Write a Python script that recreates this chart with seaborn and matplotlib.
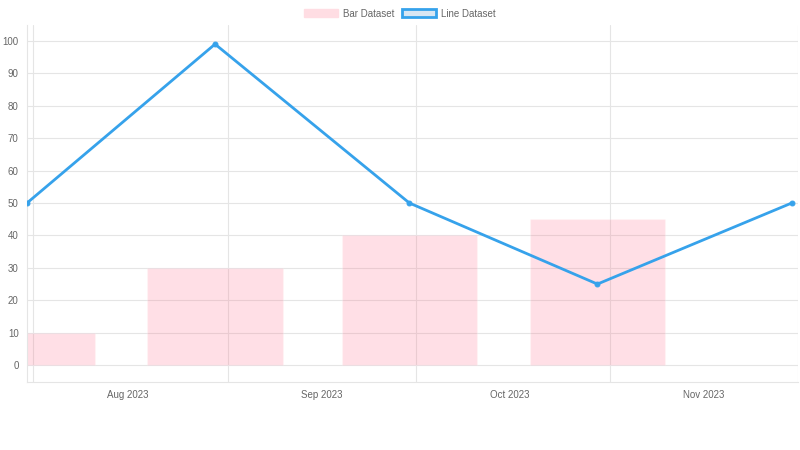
import matplotlib
matplotlib.use("Agg")
import matplotlib.pyplot as plt
import pandas as pd
import seaborn as sns
from matplotlib.patches import Patch

# data
dates = pd.to_datetime(["2023-07-31", "2023-08-30", "2023-09-30", "2023-10-30", "2023-11-30"])
line_values = [50, 99, 50, 25, 50]
bar_dates = pd.to_datetime(["2023-07-31", "2023-08-30", "2023-09-30", "2023-10-30"])
bar_values = [10, 30, 40, 45]
month_labels = ["Aug 2023", "Sep 2023", "Oct 2023", "Nov 2023"]
month_starts = pd.to_datetime(["2023-08-01", "2023-09-01", "2023-10-01", "2023-11-01", "2023-12-01"])
month_mids = pd.to_datetime(["2023-08-16", "2023-09-16", "2023-10-16", "2023-11-16"])

sns.set_style("white")
plt.rcParams['font.family'] = ['Liberation Sans', 'DejaVu Sans']

fig = plt.figure(figsize=(8, 4.5), dpi=100)
ax = fig.add_axes([27 / 800, 68 / 450, 771 / 800, 357 / 450])

ax.bar(bar_dates, bar_values, width=21.6, color="#ff6384", alpha=0.2, zorder=2)
sns.lineplot(x=dates, y=line_values, ax=ax, color="#36a2eb", linewidth=2,
             marker="o", markersize=3.5, markeredgecolor="#36a2eb", zorder=3)

ax.set_xlim(dates[0], dates[-1])
ax.set_ylim(-5.2, 104.9)
ax.set_yticks(range(0, 101, 10))

ax.set_xticks(month_starts)
ax.set_xticklabels([])
ax.set_xticks(month_mids, minor=True)
ax.set_xticklabels(month_labels, minor=True)
ax.tick_params(axis="x", which="minor", length=0, labelsize=7, colors="#666666", pad=6)
ax.tick_params(axis="x", which="major", length=0)
ax.tick_params(axis="y", length=4, color="#e5e5e5", labelsize=7, labelcolor="#666666", pad=2)

ax.grid(True, which="major", color="#e5e5e5", linewidth=0.8, zorder=0)
for s in ax.spines.values():
    s.set_visible(False)
ax.spines["left"].set_visible(True)
ax.spines["left"].set_color("#e5e5e5")
ax.spines["bottom"].set_visible(True)
ax.spines["bottom"].set_color("#e5e5e5")
ax.set_xlabel("")
ax.set_ylabel("")

handles = [Patch(facecolor="#ffdde3", edgecolor="#ffdde3"),
           Patch(facecolor="#d8e6f3", edgecolor="#36a2eb", linewidth=2)]
fig.legend(handles, ["Bar Dataset", "Line Dataset"], loc="upper center",
           bbox_to_anchor=(0.5, 1.0), ncol=2, frameon=False, fontsize=7,
           handlelength=3.5, handleheight=0.9, columnspacing=0.8, handletextpad=0.5,
           labelcolor="#666666")

fig.savefig("out.png", dpi=100)
